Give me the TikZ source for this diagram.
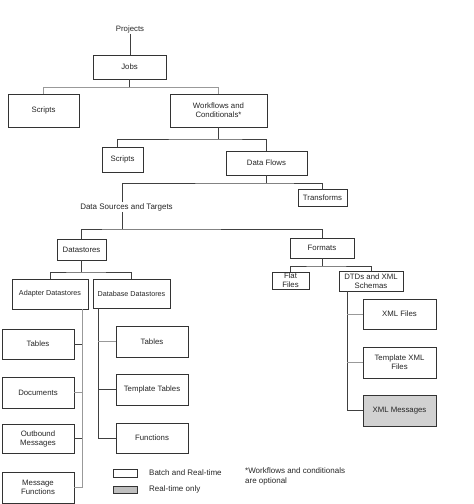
\documentclass[tikz,border=0pt]{standalone}
\usepackage{fontspec}
\setmainfont{Liberation Sans}
\begin{document}
\begin{tikzpicture}[x=1pt,y=-1pt,
  every node/.style={font=\fontsize{7.8}{9}\selectfont, text=black!85},
  box/.style={draw=black!80, line width=0.8pt, fill=white, inner sep=0pt, align=center},
  graybox/.style={box, fill=black!18},
  link/.style={draw=black!75, line width=0.7pt},
  lightlink/.style={draw=black!40, line width=0.7pt},
  plain/.style={inner sep=1pt},
  smalltext/.style={font=\fontsize{7.2}{8.4}\selectfont},
  bigtext/.style={font=\fontsize{8}{10}\selectfont}
]
\useasboundingbox (0,0) rectangle (474,504);

% nodes
\node[plain] (projects) at (130,29) {Projects};
\node[box, minimum width=73pt, minimum height=24pt] (jobs) at (129.5,67) {Jobs};
\node[box, minimum width=71pt, minimum height=33pt] (scriptsA) at (43.5,110.5) {Scripts};
\node[box, minimum width=97pt, minimum height=33pt] (wf) at (218.5,110.5) {Workflows and\\Conditionals*};
\node[box, minimum width=41pt, minimum height=25pt] (scriptsB) at (122.5,159.5) {Scripts};
\node[box, minimum width=81pt, minimum height=24pt] (df) at (266.5,163) {Data Flows};
\node[box, minimum width=49pt, minimum height=17pt] (tr) at (322.5,197.5) {Transforms};
\node[plain, bigtext] (dst) at (126.5,207) {Data Sources and Targets};
\node[box, minimum width=49pt, minimum height=21pt] (ds) at (81.5,249.5) {Datastores};
\node[box, minimum width=64pt, minimum height=20pt] (fmt) at (322,248) {Formats};
\node[box, smalltext, minimum width=76pt, minimum height=30pt] (ad) at (50,294) {Adapter Datastores};
\node[box, smalltext, minimum width=77pt, minimum height=29pt] (db) at (131.5,293.5) {Database Datastores};

\node[box, minimum width=72pt, minimum height=30pt] (lt) at (38,344) {Tables};
\node[box, minimum width=72pt, minimum height=31pt] (doc) at (38,392.5) {Documents};
\node[box, minimum width=72pt, minimum height=29pt] (ob) at (38,438.5) {Outbound\\Messages};
\node[box, minimum width=72pt, minimum height=31pt] (mf) at (38,487.5) {Message\\Functions};

\node[box, minimum width=72pt, minimum height=31pt] (dt) at (152,341.5) {Tables};
\node[box, minimum width=72pt, minimum height=31pt] (tt) at (152,389.5) {Template Tables};
\node[box, minimum width=72pt, minimum height=30pt] (fn) at (152,438) {Functions};

\node[box, minimum width=37pt, minimum height=17pt] (flat) at (290.5,280.5) {Flat\\Files};
\node[box, minimum width=64pt, minimum height=20pt] (dtd) at (371,281) {DTDs and XML\\Schemas};
\node[box, minimum width=73pt, minimum height=30pt] (xf) at (399.5,314) {XML Files};
\node[box, minimum width=73pt, minimum height=31pt] (tx) at (399.5,362.5) {Template XML\\Files};
\node[graybox, minimum width=73pt, minimum height=31pt] (xm) at (399.5,410.5) {XML Messages};

% legend
\node[box, line width=0.7pt, minimum width=24pt, minimum height=8pt] (lg1) at (125,473) {};
\node[graybox, line width=0.7pt, fill=black!25, minimum width=24pt, minimum height=7pt] (lg2) at (125,489.5) {};
\node[plain, bigtext, anchor=west] (lgt1) at (148,473) {Batch and Real-time};
\node[plain, bigtext, anchor=west] (lgt2) at (148,489.5) {Real-time only};
\node[plain, bigtext, anchor=north west, align=left] (note) at (244,466) {*Workflows and conditionals\\are optional};

% connectors
\draw[link] (projects.south) -- (projects.south |- jobs.north);

\coordinate (j1) at (129.5,87);
\draw[link] (jobs.south) -- (j1);
\draw[lightlink] (scriptsA.north) |- (j1);
\draw[lightlink] (j1) -| (wf.north);

\coordinate (w1) at (218.5,139);
\draw[link] (wf.south) -- (w1);
\draw[link] ([xshift=-5.5pt]scriptsB.north) |- (w1) -| (df.north);

\coordinate (d1) at (266.5,183);
\draw[link] (df.south) -- (d1);
\draw[link] ([xshift=-4.5pt]dst.north) |- (d1) -| (tr.north);

\coordinate (s1) at (122,229);
\draw[link] ([xshift=-4.5pt]dst.south) -- (s1);
\draw[link] (ds.north) |- (s1) -| (fmt.north);

\coordinate (ds1) at (81.5,272);
\draw[link] (ds.south) -- (ds1);
\draw[link] (ad.north) |- (ds1) -| (db.north);

% adapter bus
\coordinate (adb) at ([xshift=32pt]ad.south);
\draw[lightlink] (adb) |- (mf.east);
\draw[link] (lt.east) -- (lt.east -| adb);
\draw[lightlink] (doc.east) -- (doc.east -| adb);
\draw[link] (ob.east) -- (ob.east -| adb);

% database bus
\coordinate (dbb) at ([xshift=-33.5pt]db.south);
\draw[link] (dbb) |- (fn.west);
\draw[lightlink] (dt.west) -- (dt.west -| dbb);
\draw[link] (tt.west) -- (tt.west -| dbb);

% formats
\coordinate (f1) at (322,266);
\draw[link] (fmt.south) -- (f1);
\draw[link] (flat.north) |- (f1) -| (dtd.north);

\coordinate (dtb) at ([xshift=-24pt]dtd.south);
\draw[link] (dtb) |- (xm.west);
\draw[lightlink] (xf.west) -- (xf.west -| dtb);
\draw[lightlink] (tx.west) -- (tx.west -| dtb);
\end{tikzpicture}
\end{document}
